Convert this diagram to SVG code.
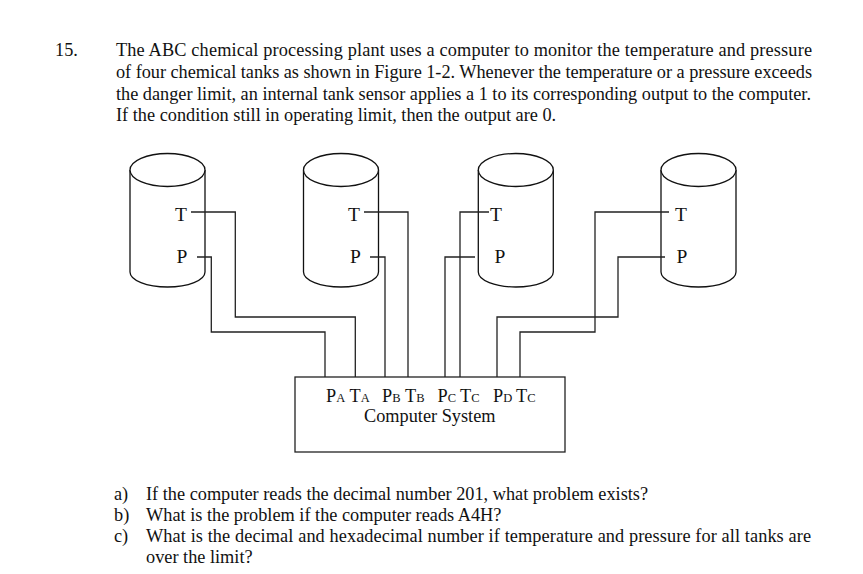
<svg xmlns="http://www.w3.org/2000/svg" width="863" height="574" viewBox="0 0 863 574">
<style>
text{font-family:"Liberation Serif","Times New Roman",serif;font-size:18.3px;fill:#111}
.l{font-size:19.5px}
.s{font-size:12.5px}
.w,.t{fill:none;stroke:#222;stroke-width:1.3}
.t{fill:#fff;stroke:#111}
.w{fill:none}
</style>
<defs>
<g id="tank"><path class="t" d="M0 17V119A37.5 15 0 0 0 75 119V17"/><ellipse class="t" cx="37.5" cy="17" rx="37.5" ry="16.5"/></g>
</defs>
<rect width="863" height="574" fill="#fff"/>
<g id="question">
<text x="55" y="56">15.</text>
<text x="116" y="56" textLength="696">The ABC chemical processing plant uses a computer to monitor the temperature and pressure</text>
<text x="116" y="78" textLength="696">of four chemical tanks as shown in Figure 1-2. Whenever the temperature or a pressure exceeds</text>
<text x="116" y="100" textLength="695">the danger limit, an internal tank sensor applies a 1 to its corresponding output to the computer.</text>
<text x="116" y="121">If the condition still in operating limit, then the output are 0.</text>
</g>
<g id="tank-a"><use href="#tank" x="130" y="153"/><text class="l" x="175" y="221">T</text><text class="l" x="176.500" y="263">P</text></g>
<g id="tank-b"><use href="#tank" x="303.500" y="153"/><text class="l" x="348" y="221">T</text><text class="l" x="350" y="263">P</text></g>
<g id="tank-c"><use href="#tank" x="478.300" y="153"/><text class="l" x="490" y="221">T</text><text class="l" x="494.500" y="263">P</text></g>
<g id="tank-d"><use href="#tank" x="661" y="153"/><text class="l" x="675" y="221">T</text><text class="l" x="676.500" y="263">P</text></g>
<g id="connectors">
<path class="w" d="M191 212H235.300V317H355.300V377"/>
<path class="w" d="M197 257H211.300V332H325V377"/>
<path class="w" d="M364 212H408V377"/>
<path class="w" d="M370 257H385V377"/>
<path class="w" d="M489 212H460V377"/>
<path class="w" d="M475 257H445V377"/>
<path class="w" d="M669 212H595V332H520V377"/>
<path class="w" d="M665 257H618V317H497V377"/>
</g>
<g id="computer-system">
<rect x="295" y="377" width="270" height="75" fill="none" stroke="#222" stroke-width="1.3"/>
<text x="326" y="401.500">P<tspan class="s">A</tspan></text>
<text x="349.500" y="401.500">T<tspan class="s">A</tspan></text>
<text x="382" y="401.500">P<tspan class="s">B</tspan></text>
<text x="405" y="401.500">T<tspan class="s">B</tspan></text>
<text x="437.500" y="401.500">P<tspan class="s">C</tspan></text>
<text x="460" y="401.500">T<tspan class="s">C</tspan></text>
<text x="493" y="401.500">P<tspan class="s">D</tspan></text>
<text x="516" y="401.500">T<tspan class="s">C</tspan></text>
<text x="364" y="422">Computer System</text>
</g>
<g id="parts">
<text x="114" y="500">a)</text><text x="146" y="500">If the computer reads the decimal number 201, what problem exists?</text>
<text x="114" y="521">b)</text><text x="146" y="521">What is the problem if the computer reads A4H?</text>
<text x="114" y="542">c)</text><text x="146" y="542" textLength="665">What is the decimal and hexadecimal number if temperature and pressure for all tanks are</text>
<text x="146" y="563">over the limit?</text>
</g>
</svg>
